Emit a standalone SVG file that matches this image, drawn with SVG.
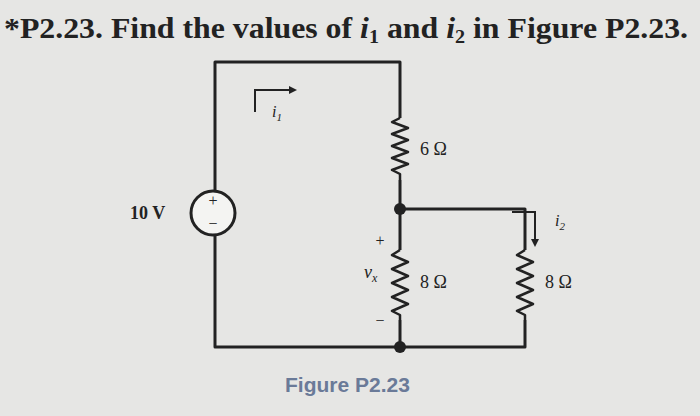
<svg xmlns="http://www.w3.org/2000/svg" width="700" height="416" viewBox="0 0 700 416">
<defs>
<style>
.w{fill:none;stroke:#222;stroke-width:3;stroke-linejoin:round}
.t{font-family:"Liberation Serif",serif;fill:#222}
.r{fill:none;stroke:#222;stroke-width:2.5;stroke-linejoin:round}
</style>
<marker id="ah" markerWidth="8" markerHeight="8" refX="6" refY="4" orient="auto" markerUnits="userSpaceOnUse"><path d="M0,0 L8,4 L0,8 z" fill="#222"/></marker>
</defs>
<rect width="700" height="416" fill="#e6e6e4"/>
<text class="t" x="4" y="38" font-size="30" font-weight="bold" textLength="684" lengthAdjust="spacingAndGlyphs">*P2.23. Find the values of <tspan font-style="italic">i</tspan><tspan font-size="19" dy="5">1</tspan><tspan dy="-5"> and </tspan><tspan font-style="italic">i</tspan><tspan font-size="19" dy="5">2</tspan><tspan dy="-5"> in Figure P2.23.</tspan></text>
<g id="connectors">
<path class="w" d="M215,191 V62 H400 V118"/>
<path class="w" d="M400,180 V250"/>
<path class="w" d="M400,320 V347"/>
<path class="w" d="M215,235 V347 H525 V320"/>
<path class="w" d="M400,209 H525 V250"/>
<path fill="none" stroke="#222" stroke-width="2" d="M255,112 V90 H295" marker-end="url(#ah)"/>
<path fill="none" stroke="#222" stroke-width="2" d="M512,212 H535 V245" marker-end="url(#ah)"/>
</g>
<g id="source"><circle cx="213" cy="213" r="22" fill="#f4f4f2" stroke="#222" stroke-width="3"/>
<text class="t" x="213" y="206" font-size="16" text-anchor="middle">+</text>
<text class="t" x="213" y="229" font-size="16" text-anchor="middle">−</text>
<text class="t" x="130" y="219" font-size="18" font-weight="bold">10 V</text></g>
<g id="r6"><path class="r" d="M400,118 l-8,4 l16,6 l-16,6 l16,6 l-16,6 l16,6 l-16,6 l16,6 l-16,6 l8,4 V180"/>
<text class="t" x="420" y="155" font-size="18">6 Ω</text></g>
<g id="n1"><circle cx="400" cy="209" r="6" fill="#222"/></g>
<g id="n2"><circle cx="400" cy="347" r="6" fill="#222"/></g>
<g id="r8a"><path class="r" d="M400,250 l-8,5 l16,7 l-16,7 l16,7 l-16,7 l16,7 l-16,7 l16,7 l-16,7 l8,4 V320"/>
<text class="t" x="420" y="288" font-size="18">8 Ω</text>
<text class="t" x="380" y="246" font-size="16" text-anchor="middle">+</text>
<text class="t" x="364" y="278" font-size="18" font-style="italic">v<tspan font-size="12" dy="4">x</tspan></text>
<text class="t" x="380" y="326" font-size="16" text-anchor="middle">−</text></g>
<g id="r8b"><path class="r" d="M525,250 l-8,5 l16,7 l-16,7 l16,7 l-16,7 l16,7 l-16,7 l16,7 l-16,7 l8,4 V320"/>
<text class="t" x="545" y="288" font-size="18">8 Ω</text></g>
<g id="labels"><text class="t" x="272" y="117" font-size="16" font-style="italic">i<tspan font-size="11" dy="4">1</tspan></text>
<text class="t" x="555" y="226" font-size="16" font-style="italic">i<tspan font-size="11" dy="4">2</tspan></text>
<text x="285" y="392" font-family="Liberation Sans,sans-serif" font-size="21" font-weight="bold" fill="#6a7a98">Figure P2.23</text></g>
</svg>
